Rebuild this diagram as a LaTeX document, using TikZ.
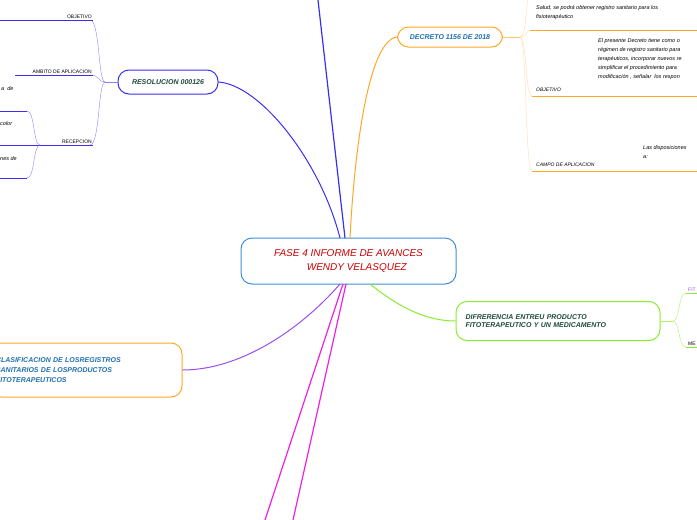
\documentclass[tikz,border=0pt]{standalone}
\usepackage{fontspec}
\setmainfont{Liberation Sans}
\begin{document}
\begin{tikzpicture}[x=1pt,y=-1pt,
  topic/.style={draw, rounded corners=11pt, line width=1pt, inner sep=0pt, font=\bfseries\itshape\small},
  lbl/.style={font=\fontsize{5}{6}\selectfont, anchor=south east, inner sep=1pt},
  txt/.style={font=\itshape\fontsize{5.5}{9}\selectfont, align=left, anchor=north west, inner sep=0pt}]
\useasboundingbox (0,0) rectangle (697,520);
\definecolor{bl}{HTML}{3A2EF0}
\definecolor{or}{HTML}{FFA726}
\definecolor{gr}{HTML}{8BEB2E}
\definecolor{pu}{HTML}{9B4DF0}
\definecolor{mg}{HTML}{F020E0}
\definecolor{cb}{HTML}{3B8FD9}
\definecolor{dg}{HTML}{1E4A3A}
\definecolor{tb}{HTML}{1F6FB0}
% central
\node[topic, draw=cb, minimum width=215pt, minimum height=46pt, text=red!80!black, font=\itshape\fontsize{10}{14}\selectfont, align=center] (c) at (348.5,261) {FASE 4 INFORME DE AVANCES\\ \ \ \ \ \ \ WENDY VELASQUEZ};
\coordinate (top) at (318,0);
\draw[bl, line width=1.2pt] (345,238) -- (top);
% resolucion
\node[topic, draw=bl, minimum width=100pt, minimum height=24pt, text=dg, font=\bfseries\itshape\scriptsize] (r) at (168,82) {RESOLUCION 000126};
\draw[bl, line width=1pt] (340,238) .. controls (320,160) and (260,85) .. (r.east);
\coordinate (rf) at (105,82);
\draw[bl!60] (r.west) -- (rf);
\draw[bl!60] (rf) .. controls (98,82) and (100,20) .. (90,20);
\draw[bl!60] (rf) .. controls (98,82) and (100,75) .. (90,75);
\draw[bl!60] (rf) .. controls (98,82) and (100,145) .. (90,145);
\draw[bl, line width=1pt] (0,20) -- (93,20); \node[lbl] (o1) at (93,20) {OBJETIVO};
\draw[bl, line width=1pt] (15,75) -- (93,75); \node[lbl] (a1) at (93,75) {AMBITO DE APLICACION};
\draw[bl, line width=1pt] (0,145) -- (93,145); \node[lbl] (re) at (93,145) {RECEPCION};
\coordinate (rf2) at (40,145);
\draw[bl!60] (rf2) .. controls (33,145) and (35,111) .. (27,111);
\draw[bl!60] (rf2) .. controls (33,145) and (35,178) .. (27,178);
\draw[bl, line width=1pt] (0,111) -- (27,111);
\draw[bl, line width=1pt] (0,178) -- (27,178);
\node[txt] (t1) at (1,86) {a\ \ de};
\node[txt] (t2) at (0,121) {color};
\node[txt] (t3) at (0,156) {nes de};
% decreto
\node[topic, draw=or, minimum width=105pt, minimum height=20pt, text=tb, font=\bfseries\itshape\scriptsize] (d) at (450,37) {DECRETO 1156 DE 2018};
\draw[or, line width=1pt] (350,238) .. controls (355,140) and (370,40) .. (d.west);
\coordinate (df) at (520,37);
\draw[or!60] (d.east) -- (df);
\draw[or!40] (df) .. controls (527,37) and (525,0) .. (530,-5);
\draw[or!40] (df) .. controls (527,37) and (525,30) .. (532,30);
\draw[or!40] (df) .. controls (527,37) and (525,96) .. (532,96);
\draw[or!40] (df) .. controls (527,37) and (525,171) .. (532,171);
\draw[or, line width=1pt] (530,30) -- (697,30);
\draw[or, line width=1pt] (532,96) -- (697,96);
\draw[or, line width=1pt] (532,171) -- (697,171);
\node[txt] (dt) at (536,5) {Salud, se podrá obtener registro sanitario para los\\ fisioterapéutico};
\node[txt, font=\itshape\fontsize{5}{6}\selectfont, anchor=south west] (do) at (536,92) {OBJETIVO};
\node[txt] (dot) at (598,38) {El presente Decreto tiene como o\\ régimen de registro sanitario para\\ terapéuticos, incorporar nuevos re\\ simplificar el procedimiento para\\ modificación , señalar\ \ los respon};
\node[txt, font=\itshape\fontsize{5}{6}\selectfont, anchor=south west] (dc) at (536,167) {CAMPO DE APLICACION};
\node[txt] (dct) at (643,145) {Las disposiciones\\ a:};
% diferencia
\node[topic, draw=gr, minimum width=204pt, minimum height=39pt, text=dg, font=\bfseries\itshape\scriptsize, align=left, text width=185pt] (f) at (558,321) {DIFRERENCIA ENTREU PRODUCTO\\ FITOTERAPEUTICO Y UN MEDICAMENTO};
\draw[gr, line width=1pt] (370,284) .. controls (390,300) and (420,321) .. (f.west);
\coordinate (ff) at (673,321);
\draw[gr!70] (f.east) -- (ff);
\draw[gr!70] (ff) .. controls (680,321) and (678,293) .. (686,293);
\draw[gr!70] (ff) .. controls (680,321) and (678,347) .. (686,347);
\draw[gr, line width=1pt] (686,293) -- (697,293);
\draw[gr, line width=1pt] (686,347) -- (697,347);
\node[lbl, anchor=south west, text=pu] (fi) at (687,293) {FIT};
\node[lbl, anchor=south west] (me) at (687,347) {ME};
% clasificacion
\node[topic, draw=or, minimum width=192pt, minimum height=54pt, text=tb, font=\bfseries\itshape\scriptsize, align=left, text width=180pt] (k) at (86,370) {CLASIFICACION DE LOSREGISTROS\\[2pt] SANITARIOS DE LOSPRODUCTOS\\[2pt] FITOTERAPEUTICOS};
\draw[pu, line width=1pt] (340,284) .. controls (300,330) and (240,370) .. (k.east);
% magenta
\coordinate (m1) at (265,520);
\coordinate (m2) at (293,520);
\draw[mg, line width=1.2pt] (343,284) -- (m1);
\draw[mg, line width=1.2pt] (346,284) -- (m2);
\end{tikzpicture}
\end{document}
